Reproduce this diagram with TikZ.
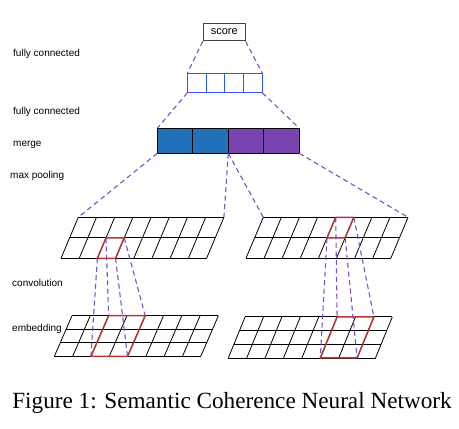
\documentclass[tikz,border=0pt]{standalone}
\usepackage{fontspec}
\setmainfont{Liberation Serif}
\setsansfont{Liberation Sans}
\usetikzlibrary{positioning}

\definecolor{linkpurple}{RGB}{123,79,204}
\definecolor{mergeblue}{RGB}{34,112,184}
\definecolor{mergepurple}{RGB}{119,68,176}
\definecolor{fcblue}{RGB}{51,85,255}
\definecolor{boxred}{RGB}{176,58,58}

\tikzset{
  lbl/.style={anchor=west,inner sep=0pt,font=\sffamily\fontsize{10}{12}\selectfont},
  link/.style={linkpurple,line width=1.1pt,dash pattern=on 5pt off 3.5pt},
  fccell/.style={draw=fcblue,line width=0.9pt,minimum width=18.75pt,minimum height=19.4pt,inner sep=0pt,outer sep=0pt},
  mcell/.style={draw=black,line width=1pt,minimum width=35.5pt,minimum height=25pt,inner sep=0pt,outer sep=0pt},
  gridline/.style={black,line width=0.8pt},
  redbox/.style={boxred,line width=1.5pt,line join=round}
}

\begin{document}
\begin{tikzpicture}[x=1pt,y=1pt]
 \useasboundingbox (0,0) rectangle (459,429);

 \node[draw=black!75,line width=1.1pt,minimum width=41.7pt,minimum height=17.4pt,inner sep=0pt,font=\sffamily\fontsize{11}{13}\selectfont] (score) at (224.2,397) {score};

 \node[fccell] (fc1) at (196.7,346) {};
 \node[fccell,right=0pt of fc1] (fc2) {};
 \node[fccell,right=0pt of fc2] (fc3) {};
 \node[fccell,right=0pt of fc3] (fc4) {};

 \node[mcell,fill=mergeblue] (m1) at (175.05,288.2) {};
 \node[mcell,fill=mergeblue,right=0pt of m1] (m2) {};
 \node[mcell,fill=mergepurple,right=0pt of m2] (m3) {};
 \node[mcell,fill=mergepurple,right=0pt of m3] (m4) {};

 \node[lbl] (lbl-fc1) at (13,375) {fully connected};
 \node[lbl] (lbl-fc2) at (13,317) {fully connected};
 \node[lbl] (lbl-merge) at (13,284) {merge};
 \node[lbl] (lbl-pool) at (10,253) {max pooling};
 \node[lbl] (lbl-conv) at (12,146) {convolution};
 \node[lbl] (lbl-emb) at (12,100.3) {embedding};

 \begin{scope} [shift={(61,170.7)},
   x = {(18.2pt,0pt)},
   y = {(8.65pt,20.5pt)}]
   \foreach \i in {0,...,8} \draw[gridline] (\i,0) -- (\i,2);
   \foreach \j in {0,1,2} \draw[gridline] (0,\j) -- (8,\j);
   \coordinate (convL-tl) at (0,2);
   \coordinate (convL-tr) at (8,2);
   \coordinate (cL-bl) at (2,0);
   \coordinate (cL-br) at (3,0);
   \coordinate (cL-tr) at (3,1);
   \coordinate (cL-tl) at (2,1);
 \end{scope}

 \begin{scope} [shift={(246,170.7)},
   x = {(18.1pt,0pt)},
   y = {(8.65pt,20.5pt)}]
   \foreach \i in {0,...,8} \draw[gridline] (\i,0) -- (\i,2);
   \foreach \j in {0,1,2} \draw[gridline] (0,\j) -- (8,\j);
   \coordinate (convR-tl) at (0,2);
   \coordinate (convR-tr) at (8,2);
   \coordinate (cR-bl) at (4,1);
   \coordinate (cR-br) at (5,1);
   \coordinate (cR-tr) at (5,2);
   \coordinate (cR-tl) at (4,2);
 \end{scope}

 \begin{scope} [shift={(54.3,72.5)},
   x = {(18.3pt,0pt)},
   y = {(5.9pt,13.6pt)}]
   \foreach \i in {0,...,8} \draw[gridline] (\i,0) -- (\i,3);
   \foreach \j in {0,...,3} \draw[gridline] (0,\j) -- (8,\j);
   \coordinate (eL-bl) at (2,0);
   \coordinate (eL-br) at (4,0);
   \coordinate (eL-tr) at (4,3);
   \coordinate (eL-tl) at (2,3);
 \end{scope}

 \begin{scope} [shift={(228.3,71)},
   x = {(18.4pt,0pt)},
   y = {(5.6pt,13.7pt)}]
   \foreach \i in {0,...,8} \draw[gridline] (\i,0) -- (\i,3);
   \foreach \j in {0,...,3} \draw[gridline] (0,\j) -- (8,\j);
   \coordinate (eR-bl) at (5,0);
   \coordinate (eR-br) at (7,0);
   \coordinate (eR-tr) at (7,3);
   \coordinate (eR-tl) at (5,3);
 \end{scope}

 \draw[link] (score.south west) -- (fc1.north west);
 \draw[link] (score.south east) -- (fc4.north east);
 \draw[link] (fc1.south west) -- (m1.north west);
 \draw[link] (fc4.south east) -- (m4.north east);
 \draw[link] (m1.south west) -- (convL-tl);
 \draw[link] (m2.south east) -- (convL-tr);
 \draw[link] (m2.south east) -- (convR-tl);
 \draw[link] (m4.south east) -- (convR-tr);
 \foreach \c in {bl,br,tr,tl} {
   \draw[link] (cL-\c) -- (eL-\c);
   \draw[link] (cR-\c) -- (eR-\c);
 }

 \draw[redbox] (cL-bl) -- (cL-br) -- (cL-tr) -- (cL-tl) -- cycle;
 \draw[redbox] (cR-bl) -- (cR-br) -- (cR-tr) -- (cR-tl) -- cycle;
 \draw[redbox] (eL-bl) -- (eL-br) -- (eL-tr) -- (eL-tl) -- cycle;
 \draw[redbox] (eR-bl) -- (eR-br) -- (eR-tr) -- (eR-tl) -- cycle;

 \node[font=\fontsize{23.2}{28}\selectfont] (caption) at (232,26) {Figure 1: Semantic Coherence Neural Network};
\end{tikzpicture}
\end{document}
